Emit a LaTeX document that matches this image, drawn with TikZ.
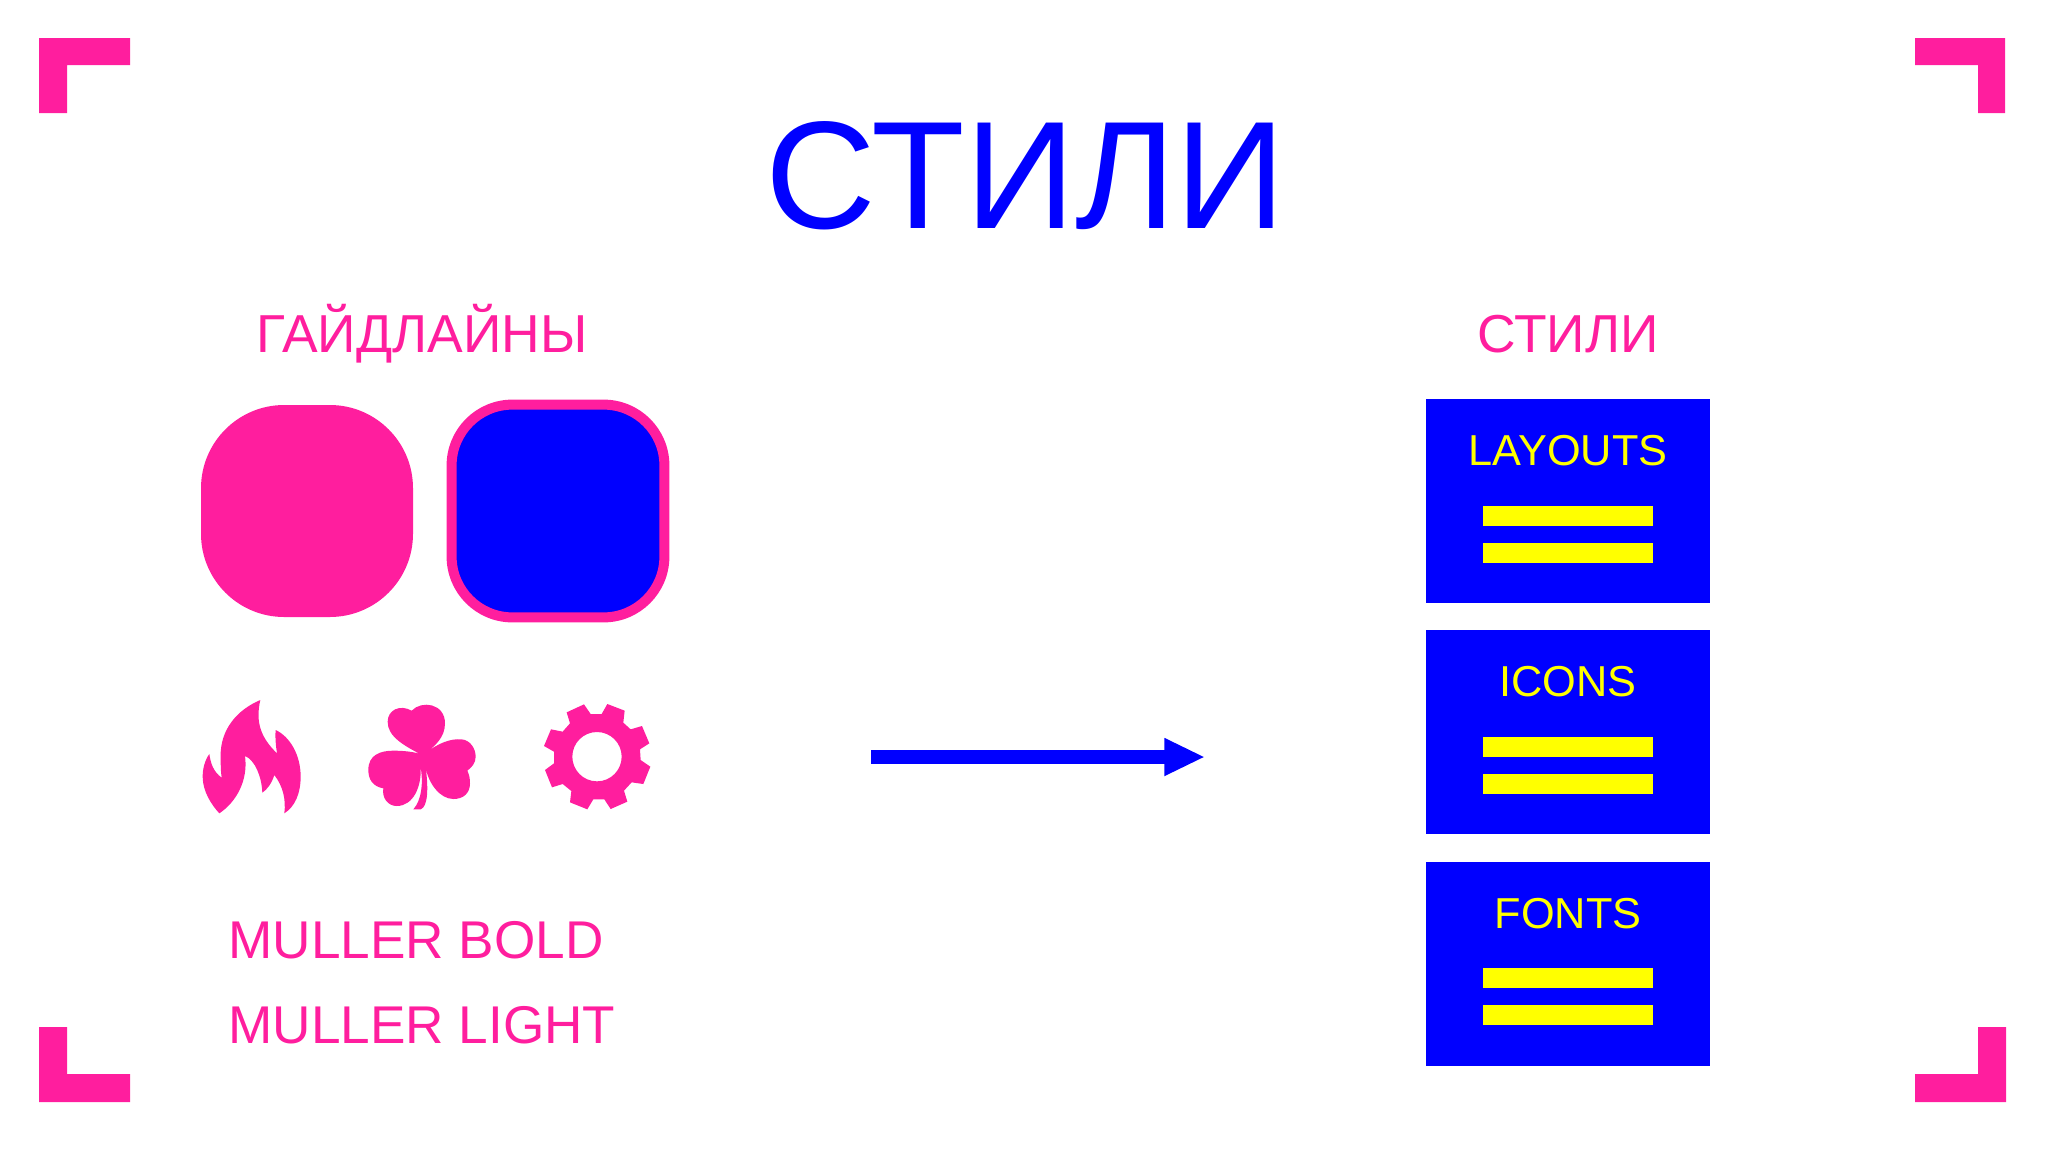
\documentclass[tikz,border=0pt]{standalone}
\usepackage{fontspec}
\setmainfont{Liberation Sans}
\usetikzlibrary{arrows.meta,positioning}
\definecolor{guidepink}{HTML}{FF1E9E}
\definecolor{styleblue}{HTML}{0000FF}
\definecolor{styleyellow}{HTML}{FFFF00}
\tikzset{
  corner/.style={fill=guidepink},
  titletext/.style={anchor=base,inner sep=0,text=styleblue,font=\fontsize{54.5}{60}\selectfont},
  headtext/.style={anchor=base,inner sep=0,text=guidepink,font=\fontsize{19}{24}\selectfont},
  fonttext/.style={anchor=base west,inner sep=0,text=guidepink,font=\fontsize{18.9}{24}\selectfont},
  blocktext/.style={anchor=base,inner sep=0,text=styleyellow,font=\fontsize{15.4}{18}\selectfont},
  block/.style={rectangle,fill=styleblue,inner sep=0,minimum width=35.6mm,minimum height=25.5mm},
  bar/.style={rectangle,fill=styleyellow,inner sep=0,minimum width=21.25mm,minimum height=2.45mm},
  icon/.style={fill=guidepink,even odd rule,shift={(180,680)},scale=1/3},
}
\begin{document}
\begin{tikzpicture}[x=0.125mm,y=-0.125mm]
   \useasboundingbox (0,0) rectangle (2048,1152);

   %frame corners
   \fill[corner] (39,38) -| (130,65) -| (67,113) -| cycle;
   \fill[corner] (2005,38) -| (1915,65) -| (1978,113) -| cycle;
   \fill[corner] (39,1102) -| (130,1074) -| (67,1027) -| cycle;
   \fill[corner] (2006,1102) -| (1915,1074) -| (1978,1027) -| cycle;

   %headings
   \node[titletext] (title) at (1026,228) {СТИЛИ};
   \node[headtext] (guides) at (422,352) {ГАЙДЛАЙНЫ};
   \node[headtext] (styles) at (1568,352) {СТИЛИ};

   %guidelines
   \node[rectangle,fill=guidepink,inner sep=0,minimum size=26.5mm,rounded corners=10.4mm] (pinkbox) at (307,511) {};
   \node[rectangle,draw=guidepink,fill=styleblue,line width=3.56pt,inner sep=0,minimum size=26.6mm,rounded corners=7.6mm] (bluebox) at (558,511) {};

   %fire
   \fill[icon] (241,60) .. controls (170,90) and (120,150) .. (122,230)
     .. controls (122,250) and (122,275) .. (125,293)
     .. controls (100,275) and (92,250) .. (88,222)
     .. controls (75,240) and (68,265) .. (68,290)
     .. controls (68,335) and (95,375) .. (118,400)
     .. controls (170,365) and (205,300) .. (195,228)
     .. controls (225,240) and (245,290) .. (247,338)
     .. controls (262,328) and (275,310) .. (283,285)
     .. controls (310,320) and (318,360) .. (313,400)
     .. controls (345,380) and (362,340) .. (362,290)
     .. controls (362,225) and (330,170) .. (287,150)
     .. controls (285,175) and (288,200) .. (291,220)
     .. controls (245,175) and (225,130) .. (241,60) -- cycle;
   %clover
   \fill[icon] (720,222) .. controls (675,198) and (622,170) .. (623,125)
     .. controls (623,90) and (660,72) .. (695,92)
     .. controls (725,60) and (795,70) .. (795,130)
     .. controls (795,172) and (765,198) .. (738,218)
     .. controls (775,190) and (810,175) .. (845,178)
     .. controls (870,180) and (887,205) .. (887,230)
     .. controls (887,250) and (875,262) .. (862,272)
     .. controls (868,285) and (870,295) .. (870,310)
     .. controls (870,340) and (850,357) .. (820,357)
     .. controls (780,357) and (745,310) .. (737,262)
     .. controls (745,320) and (745,380) .. (722,388)
     -- (700,388)
     .. controls (725,360) and (730,310) .. (722,262)
     .. controls (725,320) and (700,378) .. (650,378)
     .. controls (625,378) and (605,355) .. (610,325)
     .. controls (580,320) and (565,300) .. (565,270)
     .. controls (565,225) and (600,212) .. (640,212)
     .. controls (670,212) and (700,215) .. (720,222) -- cycle;
   %gear
   \fill[icon] (1160,97) -- (1212,73) -- (1232,102) -- (1265,102) -- (1282,72) -- (1334,92)
     -- (1330,128) -- (1352,148) -- (1386,138) -- (1408,190) -- (1380,208) -- (1382,240)
     -- (1411,260) -- (1390,312) -- (1355,307) -- (1332,332) -- (1342,365) -- (1292,387)
     -- (1273,358) -- (1240,358) -- (1222,388) -- (1170,367) -- (1174,333) -- (1148,312)
     -- (1116,322) -- (1095,270) -- (1122,250) -- (1122,215) -- (1092,198) -- (1113,148)
     -- (1148,155) -- (1170,130) -- cycle
     (1251,230) circle[radius=74];

   %font names
   \node[fonttext] (bold) at (228,958) {MULLER BOLD};
   \node[fonttext] (light) at (228,1043) {MULLER LIGHT};

   %arrow
   \coordinate (arrowstart) at (871,757);
   \coordinate (arrowend) at (1205,757);
   \draw[styleblue,line width=4.8pt,-{Triangle[length=14.5pt,width=12.5pt]}] (arrowstart) -- (arrowend);

   %layouts
   \node[block] (layouts) at (1568,501) {};
   \node[blocktext] (layoutstext) at (1568,465) {LAYOUTS};
   \node[bar] (layoutsa) at (1568,516) {};
   \node[bar] (layoutsb) at (1568,553) {};

   %icons
   \node[block] (icons) at (1568,732) {};
   \node[blocktext] (iconstext) at (1568,696) {ICONS};
   \node[bar] (iconsa) at (1568,747) {};
   \node[bar] (iconsb) at (1568,784) {};

   %fonts
   \node[block] (fonts) at (1568,964) {};
   \node[blocktext] (fontstext) at (1568,928) {FONTS};
   \node[bar] (fontsa) at (1568,978) {};
   \node[bar] (fontsb) at (1568,1015) {};
\end{tikzpicture}
\end{document}
